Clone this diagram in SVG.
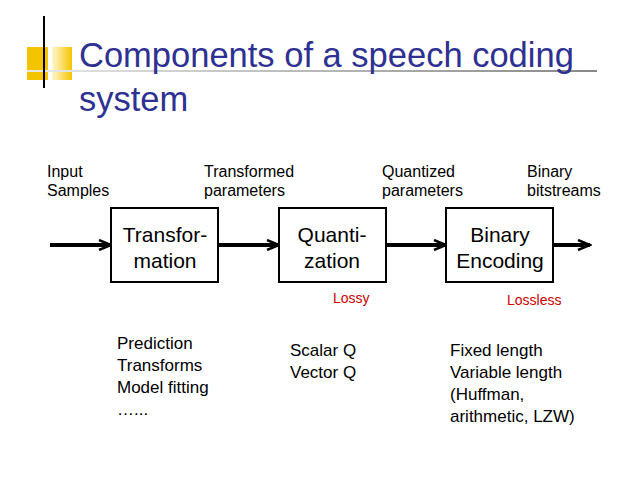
<svg xmlns="http://www.w3.org/2000/svg" width="638" height="478" viewBox="0 0 638 478">
<defs>
<linearGradient id="fade" x1="0" x2="1"><stop offset="0" stop-color="#fff7d0"/><stop offset="1" stop-color="#f5c400"/></linearGradient>
<linearGradient id="ln" x1="0" x2="1"><stop offset="0" stop-color="#e8e8e8"/><stop offset="1" stop-color="#888"/></linearGradient>
<marker id="ah" markerWidth="16" markerHeight="12" refX="14" refY="6" orient="auto" markerUnits="userSpaceOnUse"><path d="M2,1 L14,6 L2,11" fill="none" stroke="#000" stroke-width="2.5"/></marker>
</defs>
<style>
text{font-family:"Liberation Sans",Arial,sans-serif}
.t{font-size:16px;fill:#000}
.n{font-size:17px;fill:#000}
.b{font-size:21px;fill:#000;text-anchor:middle}
.r{font-size:14px;fill:#c00}
.box{fill:#fff;stroke:#000;stroke-width:2}
.c{stroke:#000;stroke-width:4;fill:none;marker-end:url(#ah)}
</style>
<rect width="638" height="478" fill="#fff"/>
<g id="title">
<rect x="27" y="47" width="21" height="33" fill="#f5c400"/>
<rect x="52" y="47" width="20" height="33" fill="url(#fade)"/>
<rect x="27" y="70" width="570" height="2" fill="url(#ln)"/>
<line x1="44" y1="16" x2="44" y2="88" stroke="#000" stroke-width="2"/>
<text x="79" y="67" font-size="34.5" fill="#2e3192">Components of a speech coding</text>
<text x="79" y="111" font-size="34.5" fill="#2e3192">system</text>
</g>
<g id="connectors">
<line class="c" x1="50" y1="245" x2="111" y2="245"/>
<line class="c" x1="218" y1="245" x2="279" y2="245"/>
<line class="c" x1="386" y1="245" x2="446" y2="245"/>
<line class="c" x1="553" y1="245" x2="590" y2="245"/>
</g>
<g id="labels">
<text class="t" x="47" y="177">Input</text><text class="t" x="47" y="196">Samples</text>
<text class="t" x="204" y="177">Transformed</text><text class="t" x="204" y="196">parameters</text>
<text class="t" x="382" y="177">Quantized</text><text class="t" x="382" y="196">parameters</text>
<text class="t" x="527" y="177">Binary</text><text class="t" x="527" y="196">bitstreams</text>
</g>
<g id="transformation"><rect class="box" x="111" y="208" width="107" height="74"/><text class="b" x="165" y="242">Transfor-</text><text class="b" x="165" y="268">mation</text></g>
<g id="quantization"><rect class="box" x="279" y="208" width="107" height="74"/><text class="b" x="332" y="242">Quanti-</text><text class="b" x="332" y="268">zation</text></g>
<g id="encoding"><rect class="box" x="446" y="208" width="107" height="74"/><text class="b" x="500" y="242">Binary</text><text class="b" x="500" y="268">Encoding</text></g>
<text class="r" x="333" y="303">Lossy</text>
<text class="r" x="507" y="305">Lossless</text>
<g id="notes">
<text class="n" x="117" y="349">Prediction</text><text class="n" x="117" y="371">Transforms</text><text class="n" x="117" y="393">Model fitting</text><text class="n" x="117" y="415">…...</text>
<text class="n" x="290" y="356">Scalar Q</text><text class="n" x="290" y="378">Vector Q</text>
<text class="n" x="450" y="356">Fixed length</text><text class="n" x="450" y="378">Variable length</text><text class="n" x="450" y="400">(Huffman,</text><text class="n" x="450" y="422">arithmetic, LZW)</text>
</g>
</svg>
